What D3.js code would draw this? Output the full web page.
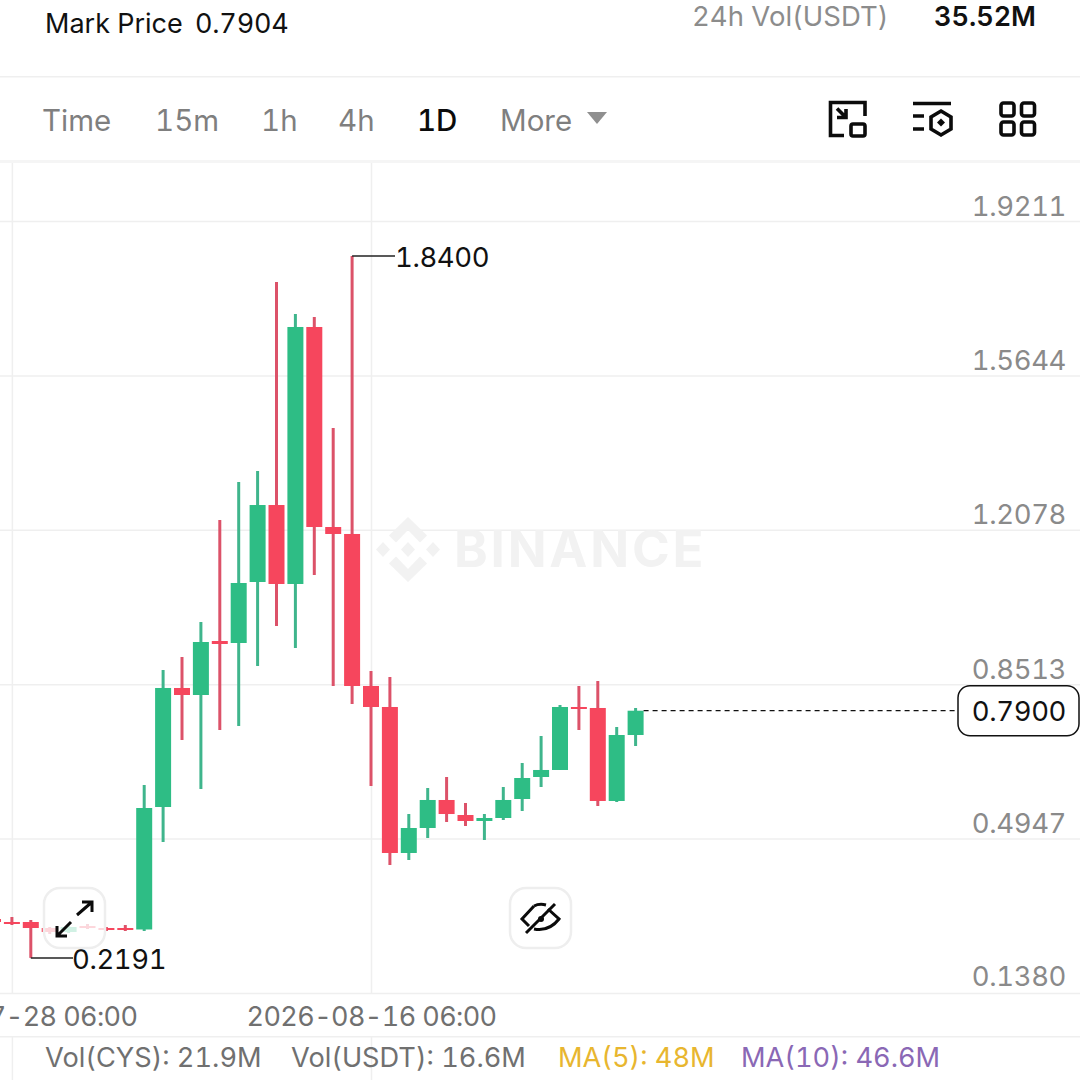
<!DOCTYPE html>
<html>
<head>
  <meta charset="utf-8" />
  <script src="https://d3js.org/d3.v7.min.js"></script>
  <style>
    body { margin: 0; background: #fff; overflow: hidden; }
    svg { display: block; }
    text { font-family: Inter, "Noto Sans", sans-serif; font-variant-numeric: tabular-nums; }
    .axis .domain { display: none; }
  </style>
</head>
<body>
<div id="chart"></div>
<script>
// daily candles
var dates = ["2026-07-27 06:00","2026-07-28 06:00","2026-07-29 06:00","2026-07-30 06:00","2026-07-31 06:00",
  "2026-08-01 06:00","2026-08-02 06:00","2026-08-03 06:00","2026-08-04 06:00","2026-08-05 06:00","2026-08-06 06:00",
  "2026-08-07 06:00","2026-08-08 06:00","2026-08-09 06:00","2026-08-10 06:00","2026-08-11 06:00","2026-08-12 06:00",
  "2026-08-13 06:00","2026-08-14 06:00","2026-08-15 06:00","2026-08-16 06:00","2026-08-17 06:00","2026-08-18 06:00",
  "2026-08-19 06:00","2026-08-20 06:00","2026-08-21 06:00","2026-08-22 06:00","2026-08-23 06:00","2026-08-24 06:00",
  "2026-08-25 06:00","2026-08-26 06:00","2026-08-27 06:00","2026-08-28 06:00","2026-08-29 06:00","2026-08-30 06:00"];
var opens = [.3089,.3020,.3020,.2881,.2789,.2927,.2881,.2881,.2847,.5676,.8425,.8263,.9510,.9464,1.0873,1.2651,1.0827,
  1.6763,1.2143,1.1982,.8471,.7986,.4614,.5191,.5838,.5491,.5353,.5422,.5861,.6369,.6531,.7986,.7963,.5815,.7339];
var highs = [.3135,.3135,.3066,.2904,.2927,.2974,.2904,.2951,.6184,.8840,.9141,.9949,1.2305,1.3183,1.3437,1.7802,1.7063,
  1.6994,1.4430,1.8400,.8817,.8679,.5514,.6115,.6369,.5768,.5514,.6138,.6692,.7316,.8032,.8471,.8586,.7524,.7963];
var lows = [.2997,.2951,.2191,.2743,.2766,.2858,.2812,.2812,.2812,.4868,.7224,.6092,.7454,.7547,.8933,.9857,.9348,
  1.1035,.8471,.8055,.6161,.4336,.4452,.4960,.5330,.5237,.4914,.5376,.5584,.6138,.6531,.7454,.5699,.5792,.7085];
var closes = [.3020,.2974,.2881,.2789,.2904,.2881,.2835,.2835,.5653,.8425,.8263,.9487,.9441,1.0850,1.2651,1.0827,1.6763,
  1.2143,1.1982,.8471,.7986,.4614,.5191,.5838,.5514,.5353,.5422,.5838,.6346,.6531,.7986,.7940,.5815,.7339,.7900];

var priceTicks = [0.1380, 0.4947, 0.8513, 1.2078, 1.5644, 1.9211];
var dateTicks = ["2026-07-28 06:00", "2026-08-16 06:00"];
var lastPrice = 0.7900, maxPrice = 1.8400, minPrice = 0.2191;
var tabs = ["Time", "15m", "1h", "4h", "1D", "More"];
var tabX = [42, 155, 261, 338, 417, 500];
var legendText = ["Vol(CYS): 21.9M", "Vol(USDT): 16.6M", "MA(5): 48M", "MA(10): 46.6M"];
var legendX = [45, 291, 558, 741];
var legendColor = ["#707070", "#707070", "#e8b62f", "#8a68b5"];

var green = "#2ebd85", red = "#f6465d", greenWick = "#3fb58c", redWick = "#dc5269";
var grid = "#efefef";

var candles = dates.map(function(d, i) {
  return {date: d, open: opens[i], high: highs[i], low: lows[i], close: closes[i]};
});

var svg = d3.select("#chart").append("svg").attr("width", 1080).attr("height", 1080);

var x = d3.scalePoint().domain(dates).range([-7, 635.6]);
var y = d3.scaleLinear().domain([priceTicks[0], priceTicks[5]]).range([993, 221]);

// page furniture behind the chart
svg.append("rect").attr("x", 0).attr("y", 76).attr("width", 1080).attr("height", 1.5).attr("fill", "#efefef");
svg.append("rect").attr("x", 0).attr("y", 160).attr("width", 1080).attr("height", 3).attr("fill", "#f5f5f5");
svg.append("rect").attr("x", 0).attr("y", 1036).attr("width", 1080).attr("height", 1.5).attr("fill", "#efefef");

svg.append("text").attr("x", 45).attr("y", 33).attr("font-size", 27).attr("fill", "#111").text("Mark Price");
svg.append("text").attr("x", 195).attr("y", 33).attr("font-size", 27).attr("letter-spacing", -0.2).attr("fill", "#111").text("0.7904");
svg.append("text").attr("x", 692).attr("y", 26).attr("font-size", 27.5).attr("fill", "#8c8c8c").text("24h Vol(USDT)");
svg.append("text").attr("x", 934).attr("y", 26).attr("font-size", 27).attr("font-weight", 600).attr("fill", "#111").text("35.52M");

svg.selectAll(".tab").data(tabs).enter().append("text")
  .attr("class", "tab")
  .attr("x", function(d, i) { return tabX[i]; })
  .attr("y", 131)
  .attr("font-size", 29.5)
  .attr("font-weight", function(d) { return d == "1D" ? 500 : 400; })
  .attr("fill", function(d) { return d == "1D" ? "#0b0b0b" : "#7f7f7f"; })
  .text(function(d) { return d; });
svg.append("path").attr("d", "M587,112H607L597,124Z").attr("fill", "#8f8f8f");

// toolbar icons
var icons = svg.append("g").attr("fill", "none").attr("stroke", "#0b0b0b").attr("stroke-width", 3.6);
icons.append("path").attr("d", "M865,116V102.5H830.5V135.5H844M837,108.5L846,117.5M846,109V117.5H837");
icons.append("rect").attr("x", 851).attr("y", 124).attr("width", 14).attr("height", 12).attr("rx", 2);
icons.append("path").attr("d", "M913,103.5H951M913,116H924M913,129H924");
icons.append("path").attr("d", "M941,111L951,117V129L941,135L931,129V117Z");
icons.append("path").attr("d", "M941,118.5L945,122.5L941,126.5L937,122.5Z").attr("fill", "#0b0b0b").attr("stroke", "none");
[[1001, 103], [1021.5, 103], [1001, 122], [1021.5, 122]].forEach(function(p) {
  icons.append("rect").attr("x", p[0]).attr("y", p[1]).attr("width", 13).attr("height", 13).attr("rx", 2.5);
});

// grid and axes
svg.append("g").selectAll("line").data(dateTicks).enter().append("line")
  .attr("x1", function(d) { return x(d) + 0.5; })
  .attr("x2", function(d) { return x(d) + 0.5; })
  .attr("y1", 163).attr("y2", 993)
  .attr("stroke", grid).attr("stroke-width", 1.5);
svg.append("g").selectAll("line").data(dateTicks).enter().append("line")
  .attr("x1", function(d) { return x(d) + 0.5; })
  .attr("x2", function(d) { return x(d) + 0.5; })
  .attr("y1", 1037).attr("y2", 1080)
  .attr("stroke", grid).attr("stroke-width", 1.5);

var yAxis = svg.append("g").attr("class", "axis")
  .attr("transform", "translate(1080,0)")
  .call(d3.axisLeft(y).tickValues(priceTicks).tickSize(1080).tickFormat(d3.format(".4f")));
yAxis.selectAll("line").attr("stroke", grid).attr("stroke-width", 1.5);
yAxis.selectAll("text")
  .attr("x", -14)
  .attr("y", function(d) { return d == priceTicks[0] ? -8 : -6; })
  .attr("dy", 0)
  .attr("font-size", 27.5)
  .attr("letter-spacing", -0.4)
  .attr("fill", "#8a8a8a");

var xAxis = svg.append("g").attr("class", "axis")
  .attr("transform", "translate(0,993)")
  .call(d3.axisBottom(x).tickValues(dateTicks).tickSize(0));
xAxis.selectAll("text")
  .attr("y", 33).attr("dy", 0)
  .attr("font-size", 27)
  .attr("letter-spacing", -0.6)
  .attr("fill", "#707070");

// watermark
var wm = svg.append("g").attr("fill", "#f2f2f2");
wm.append("path").attr("d", "M408,542L415,549.5L408,557L401,549.5Z");
wm.append("path").attr("d", "M383,542L390,549.5L383,557L376,549.5Z");
wm.append("path").attr("d", "M433,542L440,549.5L433,557L426,549.5Z");
wm.append("path").attr("d", "M408,517L427,535.5L420,542.5L408,530L396,542.5L389,535.5Z");
wm.append("path").attr("d", "M408,582L427,563.5L420,556.5L408,569L396,556.5L389,563.5Z");
wm.append("text").attr("x", 454).attr("y", 567).attr("font-size", 51).attr("font-weight", 700)
  .attr("letter-spacing", 2.8).attr("fill", "#f2f2f2").text("BINANCE");

// candles
var bars = svg.append("g").selectAll("g").data(candles).enter().append("g");
bars.append("line")
  .attr("x1", function(d) { return x(d.date); })
  .attr("x2", function(d) { return x(d.date); })
  .attr("y1", function(d) { return y(d.high); })
  .attr("y2", function(d) { return y(d.low); })
  .attr("stroke", function(d) { return d.close >= d.open ? greenWick : redWick; })
  .attr("stroke-width", 3);
bars.append("rect")
  .attr("x", function(d) { return x(d.date) - 8; })
  .attr("y", function(d) { return y(Math.max(d.open, d.close)); })
  .attr("width", 16)
  .attr("height", function(d) { return Math.max(2, Math.abs(y(d.open) - y(d.close))); })
  .attr("fill", function(d) { return d.close >= d.open ? green : red; });

// high / low callouts
var hi = candles[19], lo = candles[2];
svg.append("path")
  .attr("d", "M" + x(hi.date) + "," + y(maxPrice) + "H395")
  .attr("fill", "none").attr("stroke", "#222").attr("stroke-width", 1.5);
svg.append("text").attr("x", 395).attr("y", y(maxPrice) + 11).attr("font-size", 27.5).attr("letter-spacing", -0.4).attr("fill", "#111").text(maxPrice.toFixed(4));
svg.append("path")
  .attr("d", "M" + x(lo.date) + "," + y(minPrice) + "H73")
  .attr("fill", "none").attr("stroke", "#222").attr("stroke-width", 1.5);
svg.append("text").attr("x", 72).attr("y", y(minPrice) + 11).attr("font-size", 27.5).attr("letter-spacing", -0.4).attr("fill", "#111").text(minPrice.toFixed(4));

// last price
svg.append("line")
  .attr("x1", x(dates[dates.length - 1]) + 8).attr("x2", 958)
  .attr("y1", y(lastPrice)).attr("y2", y(lastPrice))
  .attr("stroke", "#111").attr("stroke-width", 1.3).attr("stroke-dasharray", "5,4");
svg.append("rect").attr("x", 958).attr("y", y(lastPrice) - 25).attr("width", 121).attr("height", 50).attr("rx", 12)
  .attr("fill", "#fff").attr("stroke", "#111").attr("stroke-width", 1.5);
svg.append("text").attr("x", 1066).attr("y", y(lastPrice) + 10.5).attr("text-anchor", "end")
  .attr("font-size", 27.5).attr("letter-spacing", -0.4).attr("fill", "#111").text(lastPrice.toFixed(4));

// floating buttons
[44, 510].forEach(function(bx) {
  svg.append("rect").attr("x", bx).attr("y", 888).attr("width", 61).attr("height", 60).attr("rx", 16)
    .attr("fill", "#fff").attr("fill-opacity", 0.78).attr("stroke", "#eeeeee").attr("stroke-width", 2.5);
});
var btn = svg.append("g").attr("fill", "none").attr("stroke", "#0b0b0b").attr("stroke-width", 3);
btn.append("path").attr("d", "M77,915L92,902M82,902H92V912M71,922L57,936M57,926V936H67");
btn.append("path").attr("d", "M526,933L555,904");
btn.append("path").attr("d", "M534,906L522,919L529,926M548,909L559,919C552,928 544,931 534,929");
btn.append("path").attr("d", "M534,906C538,904 542,904 546,905");
btn.append("circle").attr("cx", 541).attr("cy", 919).attr("r", 3).attr("fill", "#0b0b0b").attr("stroke", "none");

// legend
svg.selectAll(".legend").data(legendText).enter().append("text")
  .attr("class", "legend")
  .attr("x", function(d, i) { return legendX[i]; })
  .attr("y", 1067)
  .attr("font-size", 27.2)
  .attr("fill", function(d, i) { return legendColor[i]; })
  .text(function(d) { return d; });
</script>
</body>
</html>
